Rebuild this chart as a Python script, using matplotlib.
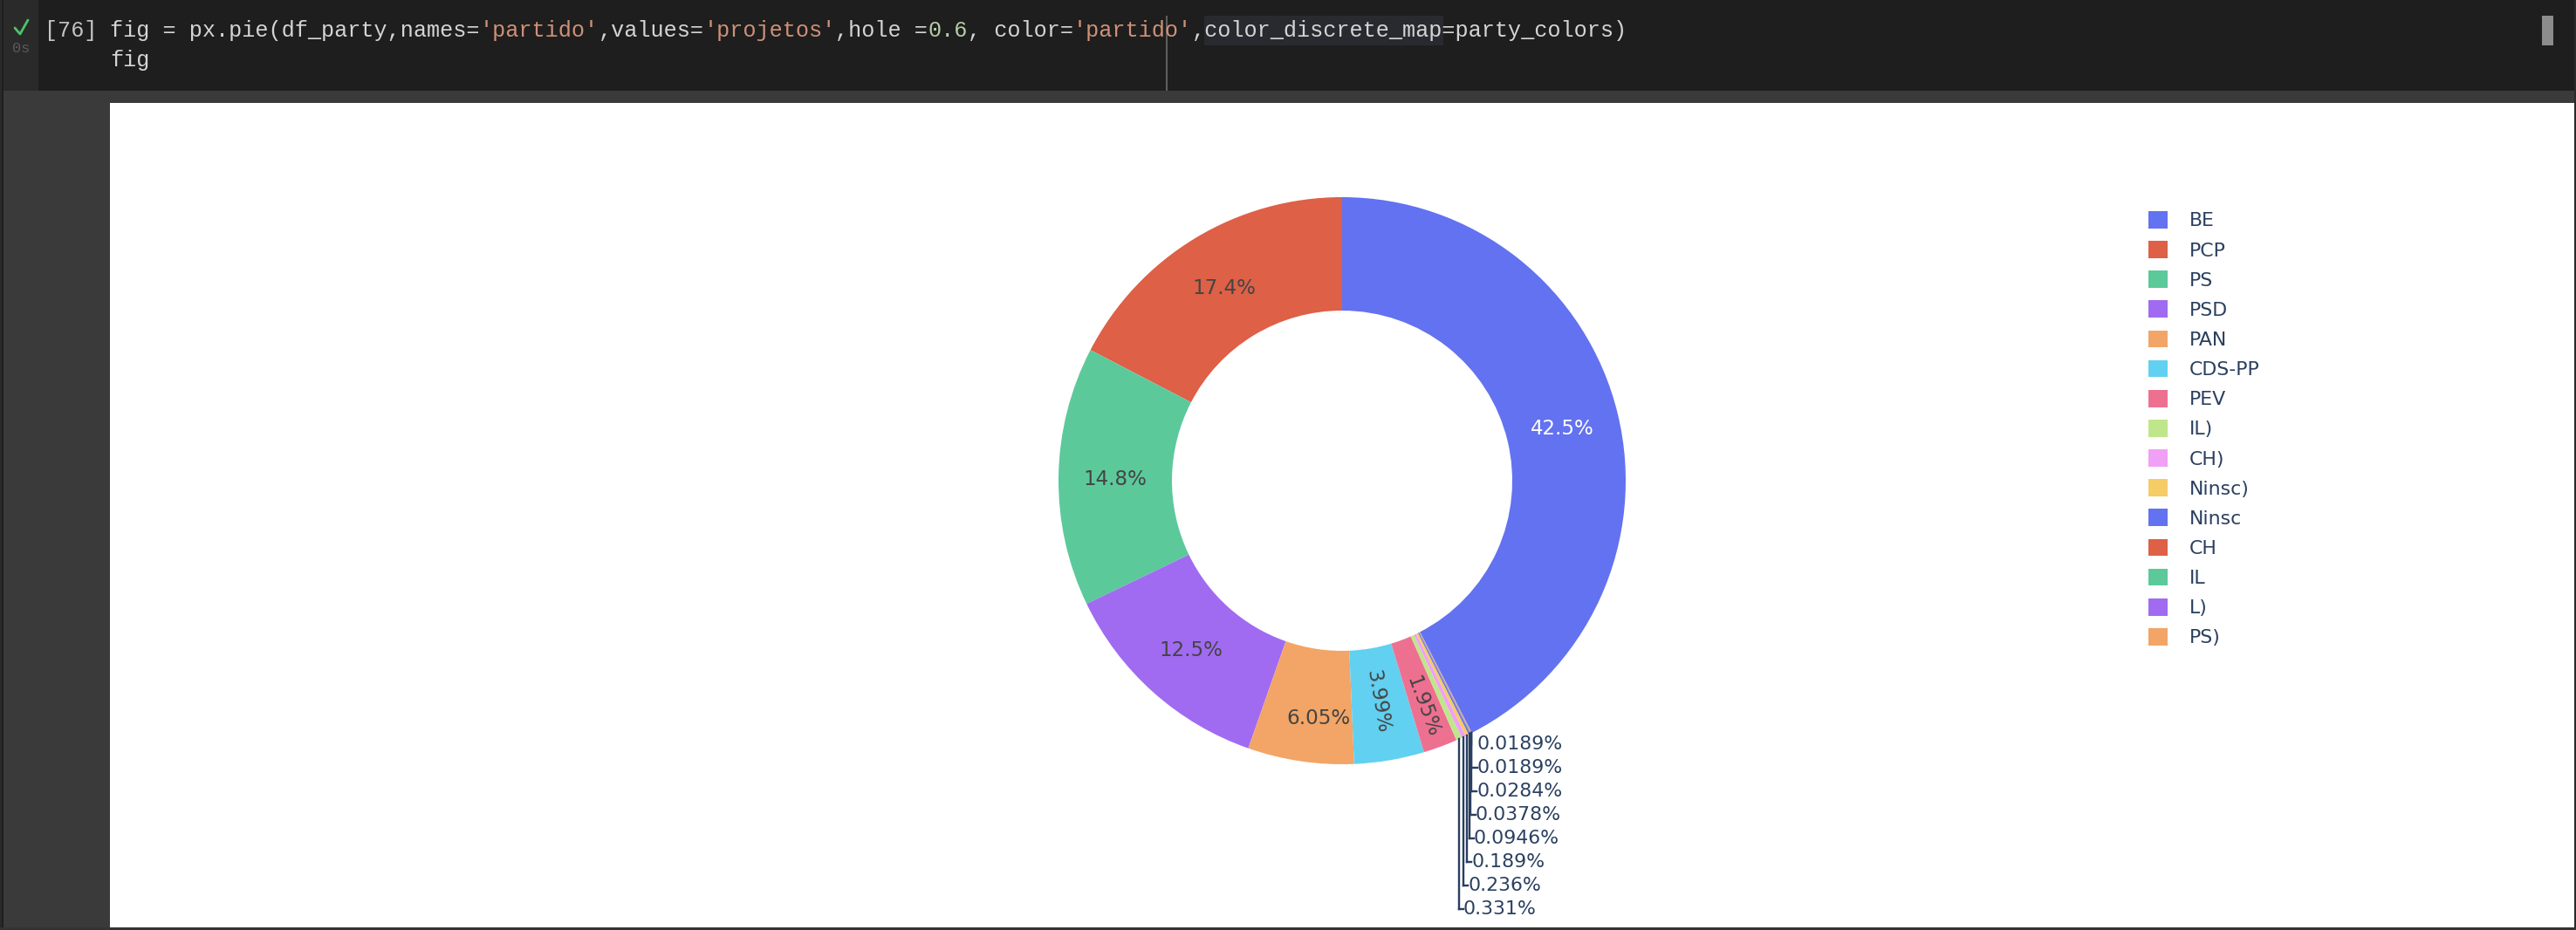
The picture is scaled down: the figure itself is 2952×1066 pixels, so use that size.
import numpy as np
import matplotlib
matplotlib.use("Agg")
import matplotlib.pyplot as plt
from matplotlib.patches import Rectangle

parties = ['BE', 'PCP', 'PS', 'PSD', 'PAN', 'CDS-PP', 'PEV', 'IL)', 'CH)', 'Ninsc)',
           'Ninsc', 'CH', 'IL', 'L)', 'PS)']
shares = [42.5, 17.4, 14.8, 12.5, 6.05, 3.99, 1.95, 0.331, 0.236, 0.189,
          0.0946, 0.0378, 0.0284, 0.0189, 0.0189]
share_labels = ['42.5%', '17.4%', '14.8%', '12.5%', '6.05%', '3.99%', '1.95%', '0.331%', '0.236%',
                '0.189%', '0.0946%', '0.0378%', '0.0284%', '0.0189%', '0.0189%']
colors = ['#6372F0', '#DD6047', '#5CC99B', '#A06BF0', '#F2A566', '#62D0F0', '#EE7091', '#C0E68C',
          '#F0A0F5', '#F5CC66', '#6372F0', '#DD6047', '#5CC99B', '#A06BF0', '#F2A566']
code_line = [("fig = px.pie(df_party,names=", '#d4d4d4'), ("'partido'", '#ce9178'), (",values=", '#d4d4d4'),
             ("'projetos'", '#ce9178'), (",hole =", '#d4d4d4'), ("0.6", '#b5cea8'), (", color=", '#d4d4d4'),
             ("'partido'", '#ce9178'), (",color_discrete_map=party_colors)", '#d4d4d4')]

W, H = 2952, 1066
DPI = 100
PX = 72 / DPI
fig = plt.figure(figsize=(W / DPI, H / DPI), dpi=DPI, facecolor='#3a3a3a')
plt.rcParams['font.family'] = ['DejaVu Sans']

bg = fig.add_axes([0, 0, 1, 1])
bg.set_xlim(0, W)
bg.set_ylim(H, 0)
bg.axis('off')


def box(x0, y0, x1, y1, c):
    bg.add_patch(Rectangle((x0, y0), x1 - x0, y1 - y0, fc=c, ec='none'))


box(0, 0, 2, H, '#2a2a2a')
box(2, 0, 4, H, '#1e1e1e')
box(4, 0, 44, 104, '#2a2a2a')
box(44, 0, 2950, 104, '#1e1e1e')
box(2950, 0, W, H, '#2a2a2a')
box(126, 118, 2950, 1063, 'white')
box(0, 1063, W, H, '#333333')
box(1380, 18, 1654, 52, '#282a30')
box(1336, 18, 1338, 104, '#5f5f5f')
box(2913, 18, 2926, 52, '#8c8c8c')

# code text
mono = 'Liberation Mono'
X0 = 126.5
n_chars = sum(len(s) for s, _ in code_line)
cw = (1864 - X0) / n_chars
fs = cw / 0.6 * PX
pos = X0
for s, c in code_line:
    bg.text(pos, 35, s, color=c, family=mono, fontsize=fs, va='center', ha='left')
    pos += cw * len(s)
bg.text(X0, 69, 'fig', color='#d4d4d4', family=mono, fontsize=fs, va='center', ha='left')
bg.text(51, 35, '[76]', color='#c4c4c4', family=mono, fontsize=fs, va='center', ha='left')
bg.text(24, 56, '0s', color='#5a5a5a', family=mono, fontsize=13 * PX * 1.3, va='center', ha='center')
bg.plot([17, 23, 32], [32, 39, 23], color='#4cc36a', lw=2.0, solid_capstyle='round')

# donut
CX, CY, R = 1538, 551, 325
ax = fig.add_axes([(CX - 1.25 * R) / W, 1 - (CY + 1.25 * R) / H, 2.5 * R / W, 2.5 * R / H])
ax.patch.set_alpha(0)
vals = np.array(shares, dtype=float)
start = 90 - 360 * vals[0] / vals.sum()
wedges, _ = ax.pie(vals, colors=colors, startangle=start, counterclock=True, radius=1,
                   wedgeprops=dict(width=0.4, linewidth=0))
ax.set_xlim(-1.25, 1.25)
ax.set_ylim(-1.25, 1.25)

TXT = 22 * PX
mids = [np.deg2rad((w.theta1 + w.theta2) / 2) for w in wedges]
rotated = {5, 6}
# small pixel nudges of the inside labels (dx right, dy down)
nudges = [(0, 2), (0, 2), (0, 2), (0, 1), (11, 15), (-3, -3), (2, 15)]
for i in range(7):
    a = mids[i]
    dx, dy = nudges[i]
    x, y = 0.8 * np.cos(a) + dx / R, 0.8 * np.sin(a) - dy / R
    rot = np.rad2deg(a) if i in rotated else 0
    ax.text(x, y, share_labels[i], ha='center', va='center', rotation=rot, rotation_mode='anchor',
            fontsize=23 * PX, color='white' if i == 0 else '#444444')

# outside labels with leader lines, from lowest to highest
label_y = [1042, 1015, 988, 961, 934, 907, 880, 853]
label_x = [1677, 1682, 1686, 1689, 1691, 1692, 1693, 1693]
for k, i in enumerate(range(7, 15)):
    a = mids[i]
    ex, ey = np.cos(a), np.sin(a)
    ly = (CY - label_y[k]) / R
    lx = (label_x[k] - CX) / R
    ax.plot([ex, ex], [ey, ly], color='#2a3f5f', lw=2.4 * PX, clip_on=False, solid_joinstyle='miter')
    if k < 7:
        ax.plot([ex, lx], [ly, ly], color='#2a3f5f', lw=2.4 * PX, clip_on=False)
    ax.text(lx, ly, share_labels[i], ha='left', va='center',
            fontsize=TXT, color='#2a3f5f', clip_on=False)

fig.legend(wedges, parties, loc='upper left', bbox_to_anchor=(2462 / W, 1 - 242 / H),
           bbox_transform=fig.transFigure, frameon=False, fontsize=TXT, labelcolor='#2a3f5f',
           handlelength=1.0, handleheight=1.0, handletextpad=1.14, labelspacing=0.58,
           borderpad=0, borderaxespad=0, ncol=1)

fig.savefig('out.png', dpi=DPI, facecolor=fig.get_facecolor())
